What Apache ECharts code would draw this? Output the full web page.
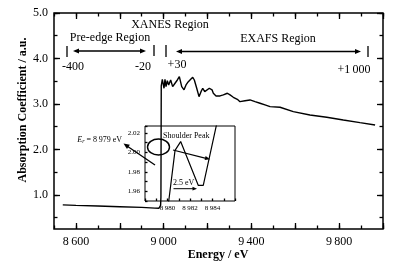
<!DOCTYPE html>
<html><head><meta charset="utf-8">
<script src="https://cdn.jsdelivr.net/npm/echarts@6/dist/echarts.min.js"></script>
<style>html,body{margin:0;padding:0;background:#fff}#c{width:400px;height:269px}</style>
</head><body><div id="c"></div>
<script>
// ---- data ----
const energy = [8540, 8600, 8700, 8800, 8900, 8960, 8978, 8983, 8986, 8987.5, 8989, 8993.9, 8998.4, 9001.6, 9006, 9010.7, 9016.6, 9022.8, 9031.9, 9041, 9051.8, 9062.4, 9071.5, 9082.3, 9092.8, 9101.9, 9112.4, 9123.4, 9132.5, 9139.8, 9150.7, 9161.2, 9170.3, 9178.1, 9187.2, 9196.3, 9208.2, 9214.6, 9220.5, 9226.4, 9238.7, 9257, 9272, 9290.3, 9302.6, 9317.6, 9335.8, 9348, 9370.9, 9393.7, 9416.5, 9439.3, 9462, 9485, 9530.6, 9538, 9591, 9667, 9743.5, 9819, 9895, 9964];
const absorption = [0.78, 0.77, 0.755, 0.74, 0.725, 0.71, 0.705, 0.72, 0.77, 0.95, 3.40, 3.543, 3.51, 3.345, 3.543, 3.38, 3.51, 3.418, 3.527, 3.38, 3.455, 3.527, 3.60, 3.38, 3.31, 3.418, 3.49, 3.543, 3.587, 3.527, 3.345, 3.16, 3.27, 3.345, 3.27, 3.31, 3.345, 3.38, 3.31, 3.235, 3.176, 3.176, 3.198, 3.235, 3.198, 3.147, 3.103, 3.05, 3.07, 3.088, 3.05, 3.015, 2.978, 2.94, 2.927, 2.905, 2.83, 2.758, 2.708, 2.648, 2.589, 2.538];
const insetEnergy = [8980.1, 8980.67, 8981.17, 8982.74, 8983.18, 8984.37, 8984.8];
const insetAbs = [1.949, 2.002, 2.011, 1.966, 1.966, 2.029, 2.06];
// axis ranges and tick steps
const xRange = [8500, 10000];
const xMajorStart = 8600, xMajorStep = 200, xMinorStep = 100, xLabelStep = 400, xLabelMax = 9800;
const yRange = [0.25, 5];
const yMajorStart = 1, yMajorStep = 1, yMinorStart = 0.5, yMinorStep = 0.5;
const insetXRange = [8978, 8986], insetXLabels = [8980, 8982, 8984];
const insetYRange = [1.95, 2.027], insetYLabels = [1.96, 1.98, 2.00, 2.02];

const FONT = '"Liberation Serif", "DejaVu Serif", serif';
const TS = '\u2009';
function fmtK(v){ const s = String(Math.round(v)); return s.slice(0, s.length-3) + TS + s.slice(-3); }
function mainXLabel(v){ const r = Math.round(v); return (r <= xLabelMax && (r - xMajorStart) % xLabelStep === 0) ? fmtK(r) : ''; }
function mainYLabel(v){ return v.toFixed(1); }
function insetXLabel(v){ const r = Math.round(v); return insetXLabels.indexOf(r) >= 0 ? fmtK(r) : ''; }
function insetYLabel(v){ return insetYLabels.some(t=>Math.abs(t-v)<1e-6) ? v.toFixed(2) : ''; }

// main plot box
const L = 54, T = 13, R = 17, B = 40, CW = 400, CH = 269;
const PW = CW - L - R, PH = CH - T - B;
const xOff = (xMajorStart - xRange[0]) / (xRange[1] - xRange[0]) * PW;
const yOffMajor = (yMajorStart - yRange[0]) / (yRange[1] - yRange[0]) * PH;
const yOffMinor = (yMinorStart - yRange[0]) / (yRange[1] - yRange[0]) * PH;

function ax(grid, pos, range, step, len, labelFmt, fontSize, margin, showTick){
  return {
    type:'value', gridIndex:grid, position:pos, min:range[0], max:range[1], interval:step,
    axisLine:{show:false, onZero:false},
    axisTick:{show:showTick!==false, inside:true, length:len, lineStyle:{color:'#000', width:1.3}},
    axisLabel:{show:!!labelFmt, formatter:labelFmt||'', color:'#000', fontFamily:FONT, fontSize:fontSize||12, margin:margin||7, showMinLabel:true, showMaxLabel:true, hideOverlap:false},
    splitLine:{show:false}, minorTick:{show:false}, minorSplitLine:{show:false}
  };
}
function hidden(grid){ return {type:'value', gridIndex:grid, min:0, max:1, show:false}; }

function arrowHead(tx, ty, fx, fy, size){
  const a = Math.atan2(ty-fy, tx-fx);
  const w = size*0.42;
  const bx = tx - size*Math.cos(a), by = ty - size*Math.sin(a);
  return {type:'polygon', shape:{points:[[tx,ty],[bx + w*Math.sin(a), by - w*Math.cos(a)],[bx - w*Math.sin(a), by + w*Math.cos(a)]]}, style:{fill:'#000'}, z:100};
}
function seg(x1,y1,x2,y2,w){ return {type:'line', shape:{x1,y1,x2,y2}, style:{stroke:'#000', lineWidth:w||1.2}, z:100}; }
function txt(x,y,t,size,align,extra){
  return Object.assign({type:'text', x, y, style:{text:t, font:(extra&&extra.bold?'bold ':'')+size+'px '+FONT, fill:'#000', align:align||'center', verticalAlign:'middle'}, z:100}, extra&&extra.rot?{rotation:extra.rot}:{});
}

const graphics = [
  txt(218, 255, 'Energy / eV', 12, 'center', {bold:true}),
  txt(23, 110, 'Absorption Coefficient / a.u.', 12, 'center', {bold:true, rot:Math.PI/2}),
  txt(170, 25, 'XANES Region', 12),
  txt(110, 38, 'Pre-edge Region', 12),
  txt(278, 39, 'EXAFS Region', 12),
  txt(73, 67, '-400', 12),
  txt(143, 67, '-20', 12),
  txt(177, 65, '+30', 12),
  txt(354, 70, '+1' + TS + '000', 12),
  seg(67, 46, 67, 57, 1.3), seg(154, 45, 154, 56, 1.3), seg(166, 45, 166, 57, 1.3), seg(368, 46, 368, 57, 1.3),
  seg(76, 51, 143, 51, 1.3), arrowHead(73, 51, 90, 51, 6), arrowHead(146, 51, 130, 51, 6),
  seg(179, 51.5, 358, 51.5, 1.3), arrowHead(176, 51.5, 200, 51.5, 6), arrowHead(361, 51.5, 340, 51.5, 6),
  {type:'ellipse', shape:{cx:158.5, cy:147, rx:11, ry:8}, style:{fill:'none', stroke:'#000', lineWidth:1.4}, z:100},
  seg(155, 165, 127, 146, 1.3), arrowHead(123.5, 143.5, 135, 151.5, 6),
  {type:'text', x:122, y:140, style:{rich:{i:{fontStyle:'italic', fontFamily:FONT, fontSize:8}, s:{fontStyle:'italic', fontFamily:FONT, fontSize:6, verticalAlign:'bottom', padding:[3,0,0,0]}, n:{fontFamily:FONT, fontSize:8}}, text:'{i|E}{s|r}{n| = 8' + TS + '979 eV}', align:'right', verticalAlign:'middle', fill:'#000'}, z:100},
  txt(163, 136, 'Shoulder Peak', 8, 'left'),
  seg(173, 150, 206, 158.3, 1.2), arrowHead(210, 159.2, 190, 154.4, 5),
  txt(173, 183, '2.5 eV', 8, 'left'),
  seg(173.5, 188.7, 193, 188.7, 1), arrowHead(197, 188.7, 185, 188.7, 4.5)
];

const chart = echarts.init(document.getElementById('c'), null, {renderer:'canvas'});
chart.setOption({
  animation:false,
  backgroundColor:'#fff',
  grid:[
    {left:L, top:T, right:R, bottom:B, show:true, borderColor:'#000', borderWidth:1.5, backgroundColor:'transparent', outerBoundsMode:'none'},
    {left:145, top:126, width:90, height:75, show:true, borderColor:'#000', borderWidth:1, backgroundColor:'transparent', outerBoundsMode:'none'},
    {left:L + xOff, top:T, right:R, bottom:B, show:false, outerBoundsMode:'none'},
    {left:L, top:T, right:R, bottom:B + yOffMajor, show:false, outerBoundsMode:'none'},
    {left:L, top:T, right:R, bottom:B + yOffMinor, show:false, outerBoundsMode:'none'}
  ],
  xAxis:[
    ax(0, 'bottom', xRange, xMinorStep, 3.5, null),                       // 0: data axis + minor ticks (bottom)
    ax(0, 'top', xRange, xMinorStep, 3.5, null),                          // 1: minor ticks (top)
    ax(1, 'bottom', insetXRange, 1, 2.5, insetXLabel, 7, 4),              // 2: inset
    ax(2, 'bottom', [xMajorStart, xRange[1]], xMajorStep, 6, mainXLabel, 12, 7), // 3: major + labels
    ax(2, 'top', [xMajorStart, xRange[1]], xMajorStep, 6, null),          // 4: major top
    hidden(3), hidden(4)                                                  // 5,6
  ],
  yAxis:[
    ax(0, 'left', yRange, yMajorStep, 0, null, 12, 6, false),             // 0: data axis
    ax(1, 'left', insetYRange, 0.01, 2.5, insetYLabel, 7, 5),             // 1: inset
    hidden(2),                                                            // 2
    ax(3, 'left', [yMajorStart, yRange[1]], yMajorStep, 6, mainYLabel, 12, 6), // 3
    ax(3, 'right', [yMajorStart, yRange[1]], yMajorStep, 6, null),        // 4
    ax(4, 'left', [yMinorStart, yRange[1]], yMinorStep, 3.5, null),       // 5
    ax(4, 'right', [yMinorStart, yRange[1]], yMinorStep, 3.5, null)       // 6
  ],
  series:[
    {type:'line', xAxisIndex:0, yAxisIndex:0, data:energy.map((e,i)=>[e, absorption[i]]), showSymbol:false, symbol:'none', lineStyle:{color:'#000', width:1.4}, z:5},
    {type:'line', xAxisIndex:2, yAxisIndex:1, data:insetEnergy.map((e,i)=>[e, insetAbs[i]]), showSymbol:false, symbol:'none', clip:true, lineStyle:{color:'#000', width:1.2}, z:5}
  ],
  graphic:graphics
});
</script></body></html>
